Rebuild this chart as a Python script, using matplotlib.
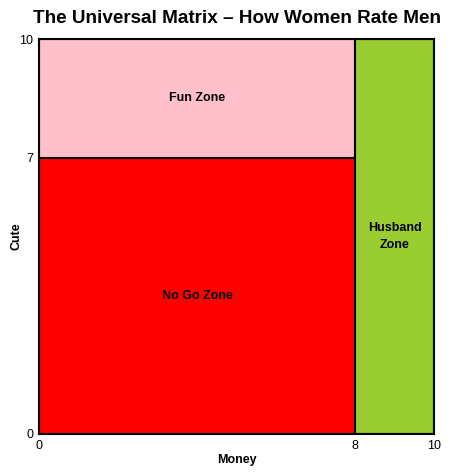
import matplotlib.pyplot as plt
from matplotlib.patches import Rectangle

plt.rcParams['font.family'] = ['Liberation Sans', 'DejaVu Sans']

# zones: name, x0, y0, width, height, colour
zone_names = ['No Go Zone', 'Fun Zone', 'Husband\nZone']
zone_x = [0, 0, 8]
zone_y = [0, 7, 0]
zone_w = [8, 8, 2]
zone_h = [7, 3, 10]
zone_colors = ['#ff0000', '#ffc0cb', '#9acd32']

x_ticks = [0, 8, 10]
y_ticks = [0, 7, 10]

fig = plt.figure(figsize=(4.74, 4.74), dpi=100)
ax = fig.add_axes([0.0823, 0.0844, 0.8333, 0.8333])

for name, x, y, w, h, c in zip(zone_names, zone_x, zone_y, zone_w, zone_h, zone_colors):
    ax.add_patch(Rectangle((x, y), w, h, facecolor=c, edgecolor='black', linewidth=1.5))
    ax.text(x + w / 2, y + h / 2, name, ha='center', va='center',
            fontsize=9, fontweight='bold', linespacing=1.45)

ax.set_xlim(0, 10)
ax.set_ylim(0, 10)
ax.set_xticks(x_ticks)
ax.set_yticks(y_ticks)
ax.tick_params(length=0, labelsize=9, pad=4)
for s in ax.spines.values():
    s.set_linewidth(1.5)
ax.set_xlabel('Money', fontsize=9, fontweight='bold', labelpad=2)
ax.set_ylabel('Cute', fontsize=9, fontweight='bold', labelpad=-2)
fig.suptitle('The Universal Matrix \u2013 How Women Rate Men', fontsize=13.6,
             fontweight='bold', y=0.978)

fig.savefig('out.png', dpi=100)
